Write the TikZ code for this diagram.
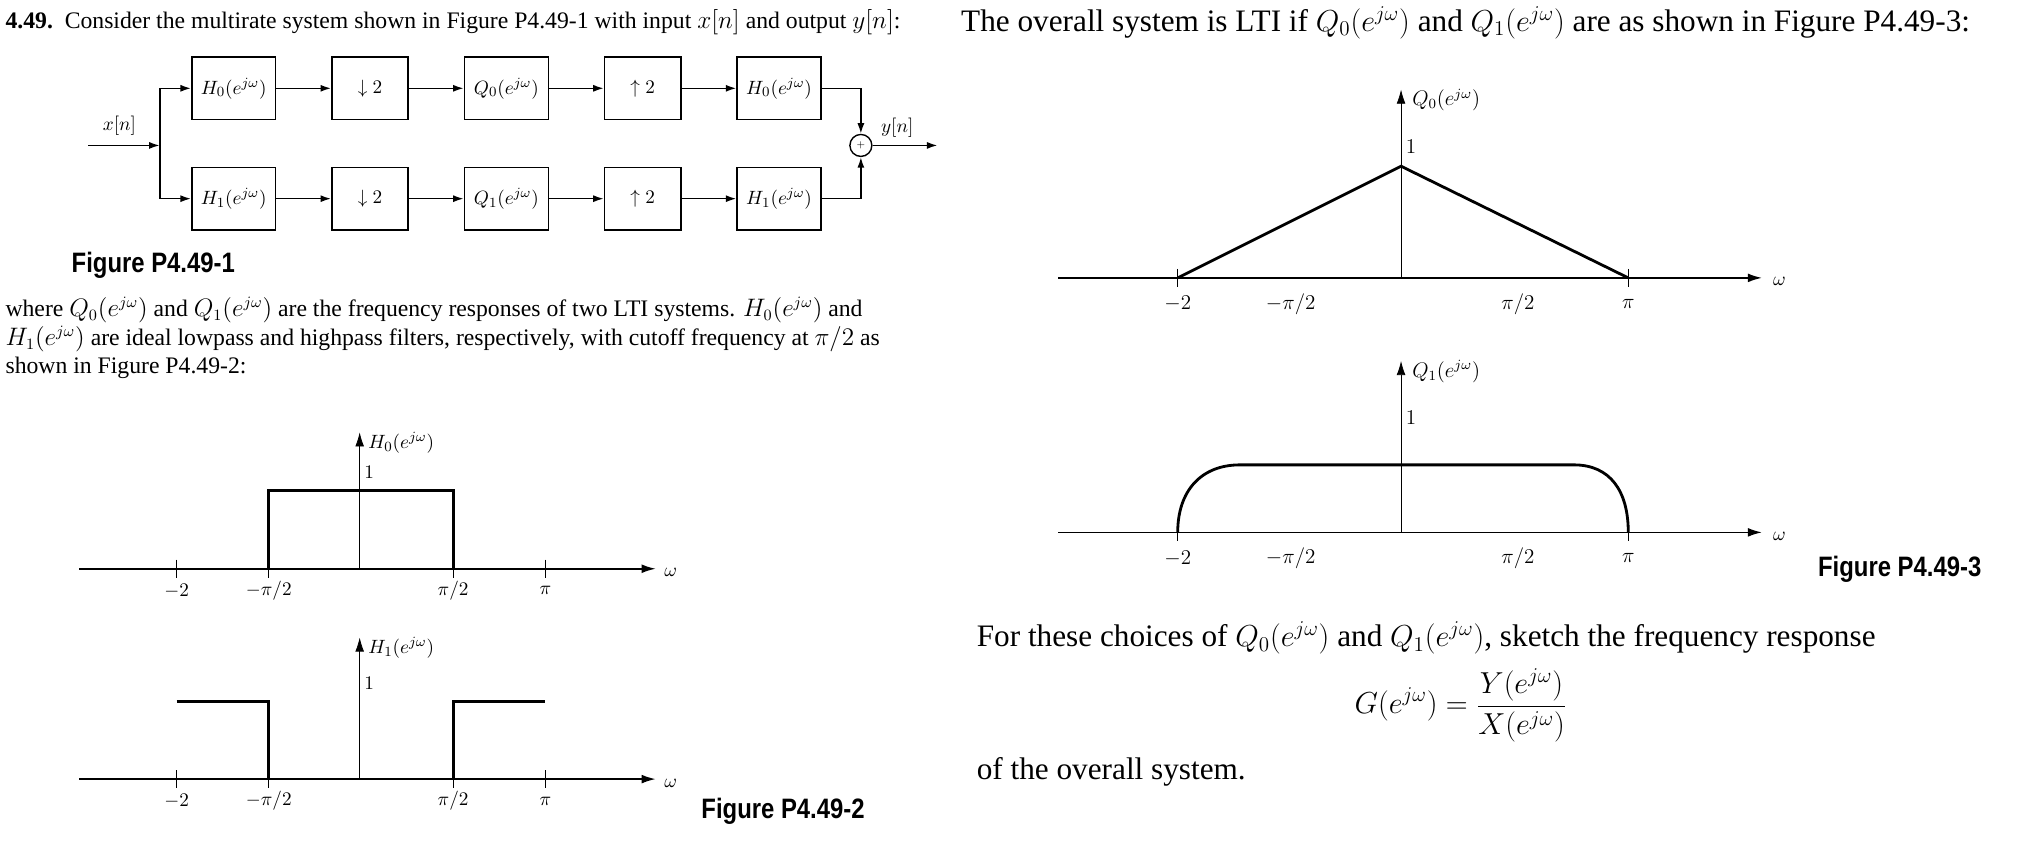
\documentclass[tikz,border=0pt]{standalone}
\usepackage{fontspec}
\setmainfont{Liberation Serif}
\newfontfamily\figfont{Liberation Sans}
\usetikzlibrary{arrows.meta,calc}
\begin{document}
\begin{tikzpicture}[x=0.026cm,y=-0.026cm,
  blk/.style={draw,line width=0.9pt,minimum height=1.25cm,inner sep=1pt,font=\fontsize{11}{12}\selectfont},
  sig/.style={line width=0.9pt,-{Latex[length=6pt,width=4pt]}},
  wire/.style={line width=0.9pt},
  ax/.style={line width=0.9pt,-{Latex[length=8pt,width=5pt]}},
  vax/.style={line width=0.4pt,-{Latex[length=8pt,width=5pt]}},
  crv/.style={line width=1.6pt},
  lbl/.style={font=\fontsize{11}{12}\selectfont,inner sep=1pt},
  figlbl/.style={font=\figfont\bfseries\fontsize{16}{17}\selectfont,anchor=base west,inner sep=0pt,xscale=0.85},
  txtL/.style={font=\fontsize{13.5}{15}\selectfont,anchor=base west,inner sep=0pt},
  txtR/.style={font=\fontsize{17.8}{18}\selectfont,anchor=base west,inner sep=0pt}]
\useasboundingbox (0,0) rectangle (1558,654);
% ---------- top text
\node[txtL] (t1) at (4,22) {\textbf{4.49.}\ \ Consider the multirate system shown in Figure P4.49-1 with input $x[n]$ and output $y[n]$:};
% ---------- block diagram
\coordinate (in) at (68,112);
\coordinate (sp) at (123,112);
\coordinate (spt) at (123,68);
\coordinate (spb) at (123,153);
\node[lbl] (xl) at (92,97) {$x[n]$};
\foreach \r/\y/\i in {a/68/0,b/153/1}{
  \node[blk,minimum width=1.68cm] (\r1) at (180,\y) {$H_{\i}(e^{j\omega})$};
  \node[blk,minimum width=1.53cm] (\r2) at (285,\y) {$\downarrow 2$};
  \node[blk,minimum width=1.68cm] (\r3) at (390,\y) {$Q_{\i}(e^{j\omega})$};
  \node[blk,minimum width=1.53cm] (\r4) at (495,\y) {$\uparrow 2$};
  \node[blk,minimum width=1.68cm] (\r5) at (600,\y) {$H_{\i}(e^{j\omega})$};
  \draw[sig] (\r1) -- (\r2);
  \draw[sig] (\r2) -- (\r3);
  \draw[sig] (\r3) -- (\r4);
  \draw[sig] (\r4) -- (\r5);
}
\node[draw,circle,line width=0.8pt,minimum size=0.44cm,inner sep=0pt,font=\tiny] (sum) at (663,112) {$+$};
\coordinate (out) at (722,112);
\draw[sig] (in) -- (sp);
\draw[wire] (spt) -- (spb);
\draw[sig] (spt) -- (a1);
\draw[sig] (spb) -- (b1);
\draw[sig] (a5.east) -| (sum.north);
\draw[sig] (b5.east) -| (sum.south);
\draw[sig] (sum) -- (out);
\node[lbl] (yl) at (691,98) {$y[n]$};
\node[figlbl] (f1) at (55,210) {Figure P4.49-1};
% ---------- paragraph
\node[txtL] (p1) at (4,244) {where $Q_0(e^{j\omega})$ and $Q_1(e^{j\omega})$ are the frequency responses of two LTI systems. $H_0(e^{j\omega})$ and};
\node[txtL] (p2) at (4,266) {$H_1(e^{j\omega})$ are ideal lowpass and highpass filters, respectively, with cutoff frequency at $\pi/2$ as};
\node[txtL] (p3) at (4,288) {shown in Figure P4.49-2:};
% ---------- H plots
\foreach \n/\ay/\top/\one/\lev/\lab in {h0/438/333/364/378/{H_0(e^{j\omega})},h1/600/491/526/540/{H_1(e^{j\omega})}}{
  \coordinate (\n L) at (61,\ay);
  \coordinate (\n R) at (505,\ay);
  \coordinate (\n O) at (277,\ay);
  \coordinate (\n T) at (277,\top);
  \draw[ax] (\n L) -- (\n R);
  \node[lbl,anchor=west] (\n w) at (510,\ay+3) {$\omega$};
  \draw[vax] (\n O) -- (\n T);
  \node[lbl,anchor=west] (\n l) at (282,\top+8) {$\lab$};
  \node[lbl,anchor=west] (\n one) at (279,\one) {$1$};
  \foreach \tx/\tl in {136/{-2},207/{-\pi/2},349/{\pi/2},420/{\pi}}{
    \draw[line width=0.4pt] (\tx,\ay-7) -- (\tx,\ay+7);
    \node[lbl] at (\tx,\ay+17) {$\tl$};
  }
}
\draw[crv] (207,438) -- (207,378) -- (349,378) -- (349,438);
\draw[crv] (136,540) -- (207,540) -- (207,600);
\draw[crv] (349,600) -- (349,540) -- (420,540);
\node[figlbl] (f2) at (540,630) {Figure P4.49-2};
% ---------- right text
\node[txtR] (r1) at (740,24) {The overall system is LTI if $Q_0(e^{j\omega})$ and $Q_1(e^{j\omega})$ are as shown in Figure P4.49-3:};
% ---------- Q plots
\foreach \n/\ay/\top/\one/\lab in {q0/214/69/113/{Q_0(e^{j\omega})},q1/410/278/322/{Q_1(e^{j\omega})}}{
  \coordinate (\n L) at (815,\ay);
  \coordinate (\n R) at (1357,\ay);
  \coordinate (\n O) at (1079,\ay);
  \coordinate (\n T) at (1079,\top);
  \draw[ax] (\n L) -- (\n R);
  \node[lbl,anchor=west] (\n w) at (1364,\ay+3) {$\omega$};
  \draw[vax] (\n O) -- (\n T);
  \node[lbl,anchor=west] (\n l) at (1086,\top+8) {\large$\lab$};
  \node[lbl,anchor=west] (\n one) at (1081,\one) {\large$1$};
  \foreach \tx/\tl in {907/{-2},994/{-\pi/2},1169/{\pi/2},1254/{\pi}}{
    \node[lbl] at (\tx,\ay+20) {\large$\tl$};
  }
  \draw[line width=0.4pt] (907,\ay-7) -- (907,\ay+7);
  \draw[line width=0.4pt] (1254,\ay-7) -- (1254,\ay+7);
}
\draw[crv] (907,214) -- (1079,128) -- (1254,214);
\draw[crv] (907,410) .. controls (907,378) and (925,358) .. (955,358) -- (1212,358) .. controls (1240,358) and (1254,378) .. (1254,410);
\node[figlbl] (f3) at (1400,444) {Figure P4.49-3};
% ---------- bottom right text
\node[txtR] (r2) at (752,498) {For these choices of $Q_0(e^{j\omega})$ and $Q_1(e^{j\omega})$, sketch the frequency response};
\node[font=\fontsize{17}{18}\selectfont,inner sep=0pt] (eq) at (1125,543) {$\displaystyle G(e^{j\omega})=\frac{Y(e^{j\omega})}{X(e^{j\omega})}$};
\node[txtR] (r3) at (752,600) {of the overall system.};
\end{tikzpicture}
\end{document}
